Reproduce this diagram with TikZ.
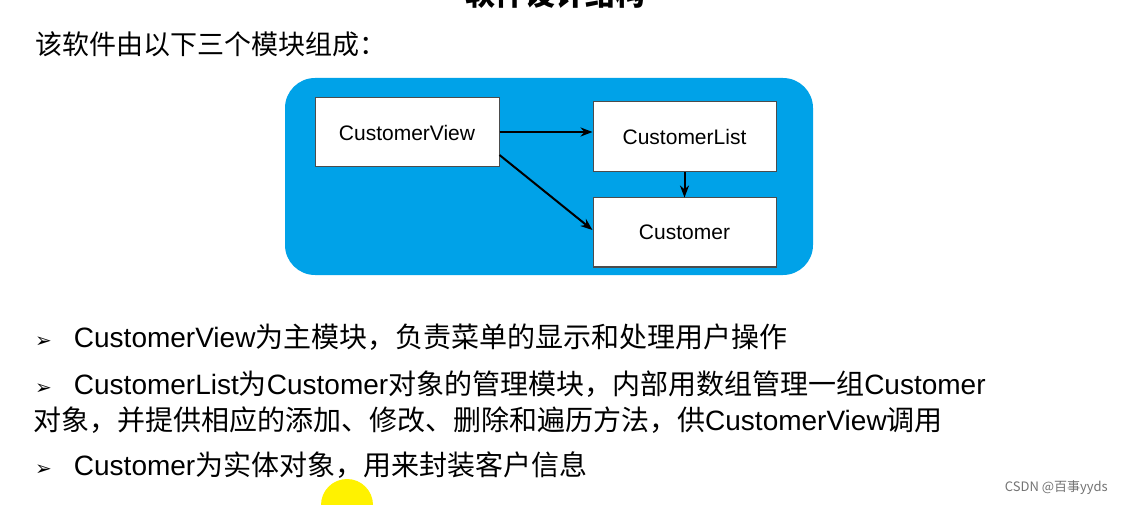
\documentclass[tikz,border=0pt]{standalone}
\usepackage{fontspec}
\usetikzlibrary{arrows.meta}
\setmainfont{Noto Sans CJK SC}
\newfontfamily\lat{Liberation Sans}
\newfontfamily\sym{DejaVu Sans}
\newcommand\la[1]{{\lat #1}}
\newcommand\bul{{\sym\fontsize{20}{24}\selectfont ➢}\hspace{22pt}}
\definecolor{bluebg}{HTML}{00A2E8}
\begin{document}
\begin{tikzpicture}[x=1pt,y=-1pt,
  mbox/.style={draw=black!70,fill=white,line width=1pt,inner sep=0pt,font=\lat\fontsize{21}{24}\selectfont},
  conn/.style={-{Stealth[length=12pt,width=9pt]},line width=2pt},
  txt/.style={anchor=west,inner sep=0pt,font=\fontsize{28}{32}\selectfont}]
\useasboundingbox (0,0) rectangle (1122,505);
\begin{scope}
\clip (0,0) rectangle (1122,505);
\node[anchor=center,inner sep=0pt,font=\bfseries\fontsize{30}{34}\selectfont] (title) at (555,-6) {软件设计结构};
\fill[yellow] (347,505) circle (26);
\end{scope}
\node[txt,font=\fontsize{27}{30}\selectfont] (intro) at (35,44) {该软件由以下三个模块组成：};
\fill[bluebg,rounded corners=30pt] (285,78) rectangle (813,275);
\node[mbox,minimum width=184pt,minimum height=69pt] (cv) at (407,132.5) {CustomerView};
\node[mbox,minimum width=183pt,minimum height=70pt] (cl) at (684.5,137) {CustomerList};
\node[mbox,minimum width=183pt,minimum height=69pt] (c) at (684.5,232.5) {Customer};
\draw[conn] (cv.east|-0,132) -- (cl.west|-0,132);
\draw[conn] (cl.south) -- (c.north);
\draw[conn] (cv.east|-0,155) -- (c.west|-0,230);
\node[txt] (b1) at (35,337) {\bul\la{CustomerView}为主模块，负责菜单的显示和处理用户操作};
\node[txt] (b2) at (35,384) {\bul\la{CustomerList}为\la{Customer}对象的管理模块，内部用数组管理一组\la{Customer}};
\node[txt] (b2b) at (33,420) {对象，并提供相应的添加、修改、删除和遍历方法，供\la{CustomerView}调用};
\node[txt] (b3) at (35,465) {\bul\la{Customer}为实体对象，用来封装客户信息};
\node[anchor=east,inner sep=0pt,text=black!55,font=\fontsize{13}{15}\selectfont] (wm) at (1108,488) {CSDN @百事yyds};
\end{tikzpicture}
\end{document}
